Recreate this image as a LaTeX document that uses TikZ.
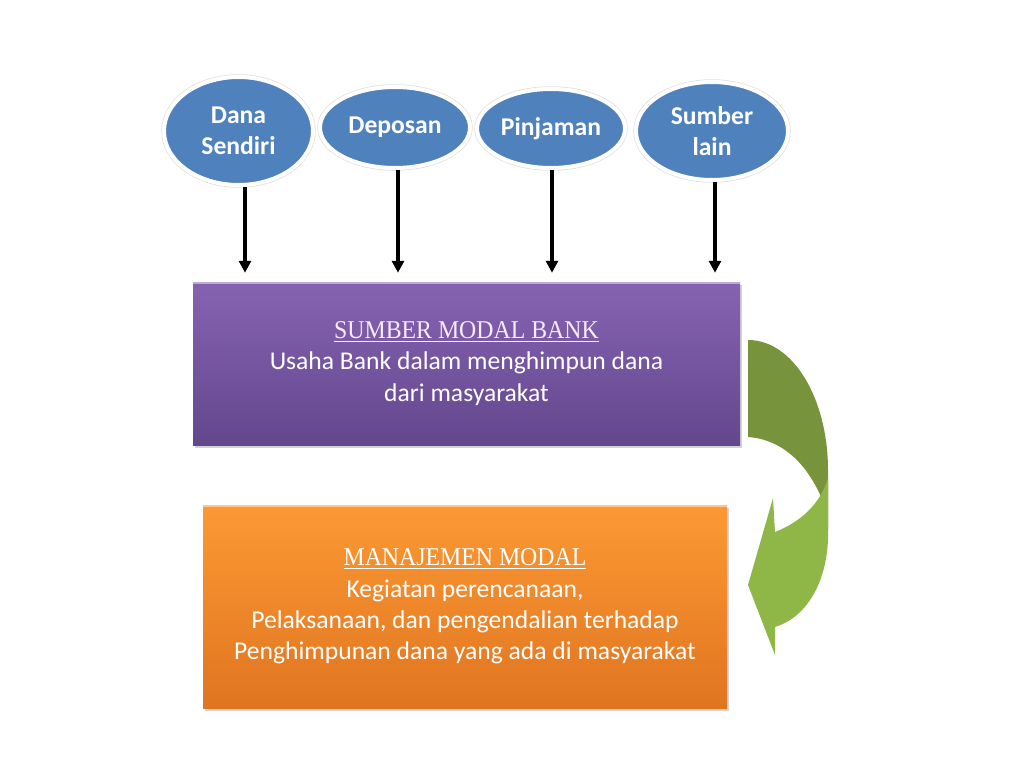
\documentclass[tikz,border=0pt]{standalone}
\usepackage{fontspec}
\setmainfont{Carlito}
\newfontfamily\headfont[FakeStretch=0.93]{Liberation Serif}
\usetikzlibrary{shapes.geometric, arrows.meta, shadows}
\newcommand{\pxl}{0.703pt}
\definecolor{srcblue}{RGB}{79,129,189}
\definecolor{purpletop}{RGB}{134,99,178}
\definecolor{purplebot}{RGB}{99,71,141}
\definecolor{orangetop}{RGB}{252,153,52}
\definecolor{orangebot}{RGB}{224,117,32}
\definecolor{leafdark}{RGB}{119,148,60}
\definecolor{leaflight}{RGB}{143,183,72}
\definecolor{titlewhite}{RGB}{246,234,252}
\tikzset{
  src/.style={
    ellipse,
    inner sep=0pt,
    align=center,
    fill=srcblue,
    draw=white,
    line width=4*\pxl,
    preaction={draw=black!12, line width=5.5*\pxl},
    text=white,
    font=\bfseries\fontsize{18}{22}\selectfont
  },
  box/.style={
    rectangle,
    inner sep=0pt,
    align=center,
    text=white,
    font=\fontsize{18}{22}\selectfont,
    drop shadow={shadow xshift=1.2pt, shadow yshift=-1.8pt, opacity=0.35}
  },
  arrow/.style={line width=3.5*\pxl, -{Triangle[length=8.4pt, width=8.4pt]}, shorten >=6.3pt}
}

\begin{document}
\begin{tikzpicture}[x=\pxl, y=-\pxl]
  \useasboundingbox (0,0) rectangle (1024,768);

  % sources of funds
  \node (dana) [src, minimum width=149*\pxl, minimum height=108*\pxl] at (238.5,131) {Dana\\Sendiri};
  \node (deposan) [src, minimum width=150*\pxl, minimum height=81*\pxl] at (395,127.5) {Deposan};
  \node (pinjaman) [src, minimum width=148*\pxl, minimum height=79*\pxl] at (551,128.5) {Pinjaman};
  \node (lain) [src, minimum width=152*\pxl, minimum height=98*\pxl] at (712,131) {Sumber\\lain};

  % boxes
  \node (sumber) [box, minimum width=547*\pxl, minimum height=163*\pxl,
    top color=purpletop, bottom color=purplebot] at (466.5,363.5)
    {{\headfont\fontsize{18}{22}\selectfont\color{titlewhite}\underline{SUMBER MODAL BANK}}\\
     Usaha Bank dalam menghimpun dana\\dari masyarakat};
  \node (manajemen) [box, minimum width=524*\pxl, minimum height=203*\pxl,
    top color=orangetop, bottom color=orangebot] at (465,606.5)
    {{\headfont\fontsize{18}{22}\selectfont\underline{MANAJEMEN MODAL}}\\
     Kegiatan perencanaan,\\Pelaksanaan, dan pengendalian terhadap\\
     Penghimpunan dana yang ada di masyarakat};
  \draw[purpletop!55!white, line width=2.5*\pxl] ([yshift=-1.2*\pxl]sumber.north west) -- ([yshift=-1.2*\pxl]sumber.north east);
  \draw[orangetop!55!white, line width=2.5*\pxl] ([yshift=-1.2*\pxl]manajemen.north west) -- ([yshift=-1.2*\pxl]manajemen.north east);

  % arrows
  \draw[arrow] ([xshift=6.5*\pxl]dana.south) -- ([xshift=6.5*\pxl]dana.south |- sumber.north);
  \draw[arrow] ([xshift=3*\pxl]deposan.south) -- ([xshift=3*\pxl]deposan.south |- sumber.north);
  \draw[arrow] ([xshift=1*\pxl]pinjaman.south) -- ([xshift=1*\pxl]pinjaman.south |- sumber.north);
  \draw[arrow] ([xshift=3*\pxl]lain.south) -- ([xshift=3*\pxl]lain.south |- sumber.north);

  % curved arrow
  \fill[leafdark] (748,340) .. controls (794,340) and (828,400) .. (828,470)
    -- (828,530) -- (828,515) .. controls (815,475) and (790,440) .. (748,437) -- cycle;
  \fill[leaflight] (775,532) .. controls (800,522) and (820,505) .. (828,478)
    -- (828,540) .. controls (826,585) and (805,618) .. (775,627)
    -- (775,655) -- (748,585) -- (773,498) -- cycle;
\end{tikzpicture}
\end{document}
